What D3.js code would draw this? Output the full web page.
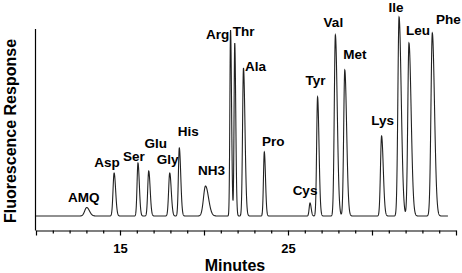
<!DOCTYPE html>
<html>
<head>
<meta charset="utf-8">
<script src="https://cdn.jsdelivr.net/npm/d3@7/dist/d3.min.js"></script>
<style>
  html, body { margin: 0; padding: 0; background: #fff; }
  svg { display: block; }
  text { font-family: "Liberation Sans", Arial, sans-serif; font-weight: bold; fill: #000; }
</style>
</head>
<body>
<svg id="chart" width="462" height="273"></svg>
<script>
// ---- data ----
const peakNames   = ["AMQ","Asp","Ser","Glu","Gly","His","NH3","Arg","Thr","Ala","Pro","Cys","Tyr","Val","Met","Lys","Ile","Leu","Phe"];
const retentionMin = [13.02,14.65,16.07,16.71,17.96,18.53,20.09,21.58,21.83,22.35,23.59,26.31,26.76,27.82,28.38,30.57,31.61,32.20,33.59];
const peakHeights  = [8.5,43,53,45,43,68,30,186,173,148,64,13,119,181,146,80,199,173,183];
const widthLeft    = [0.12,0.065,0.055,0.06,0.065,0.055,0.12,0.04,0.04,0.055,0.05,0.05,0.055,0.065,0.065,0.065,0.07,0.07,0.08];
const widthRight   = [0.16,0.09,0.08,0.085,0.09,0.085,0.18,0.06,0.06,0.09,0.07,0.07,0.085,0.11,0.11,0.1,0.13,0.13,0.13];
const runStart = 10.0, runEnd = 34.52;
const xTickValues = [10,11,12,13,14,15,16,17,18,19,20,21,22,23,24,25,26,27,28,29,30,31,32,33,34,35];
const xTickLabels = {15: "15", 25: "25"};
const yLabel = "Fluorescence Response";
const xLabel = "Minutes";

// ---- layout (label offsets relative to apex, px) ----
const labelOffsets = {
  AMQ:[-3,-6], Asp:[-7,-6], Ser:[-4,-2], Glu:[7,-23], Gly:[-2,-9], His:[9,-12], NH3:[6,-11],
  Arg:[-13,9], Thr:[9,-7], Ala:[12,3], Pro:[9,-6], Cys:[-5,-8], Tyr:[-2,-12], Val:[-2,-8],
  Met:[10,-11], Lys:[1,-11], Ile:[-3,-5], Leu:[9,-8], Phe:[16,-9]
};

const svg = d3.select("#chart");
const x = d3.scaleLinear().domain([10, 35]).range([36, 456]);
const y = d3.scaleLinear().domain([-14, 187]).range([230, 29]);

// trace built from the peak table
function signal(t) {
  let s = 0;
  for (let i = 0; i < peakNames.length; i++) {
    const d = t - retentionMin[i];
    const w = d < 0 ? widthLeft[i] : widthRight[i];
    s += peakHeights[i] * Math.exp(-d * d / (2 * w * w));
  }
  return s;
}
const times = d3.range(runStart, runEnd, 0.005);
const trace = times.map(t => [t, signal(t)]);

// axes
svg.append("line").attr("x1", 35.5).attr("x2", 35.5).attr("y1", 29).attr("y2", 230.5)
  .attr("stroke", "#000").attr("stroke-width", 1.2);

const xAxis = d3.axisBottom(x).tickValues(xTickValues)
  .tickSize(3).tickSizeOuter(0).tickFormat(d => xTickLabels[d] || "");
const gx = svg.append("g").attr("transform", "translate(0,230.5)").call(xAxis);
gx.select(".domain").attr("stroke", "#000").attr("stroke-width", 1.2);
gx.selectAll(".tick line").attr("stroke", "#000").attr("stroke-width", 1.2)
  .attr("y2", d => (d % 5 === 0 ? 5 : 3));
gx.selectAll(".tick text").attr("y", 13).attr("dy", "0.71em")
  .style("font-family", "'Liberation Sans', Arial, sans-serif").style("font-weight", "bold")
  .style("font-size", "13px").attr("fill", "#000");

// trace
svg.append("path").datum(trace)
  .attr("d", d3.line().x(d => x(d[0])).y(d => y(d[1])))
  .attr("fill", "none").attr("stroke", "#222").attr("stroke-width", 1.1);

// peak labels
svg.append("g").selectAll("text").data(peakNames).join("text")
  .attr("x", (d, i) => x(retentionMin[i]) + labelOffsets[d][0])
  .attr("y", (d, i) => y(signal(retentionMin[i])) + labelOffsets[d][1])
  .attr("text-anchor", "middle")
  .style("font-size", "13.5px")
  .text(d => d);

// axis titles
svg.append("text").attr("x", 235).attr("y", 271).attr("text-anchor", "middle")
  .style("font-size", "16px").text(xLabel);
svg.append("text").attr("transform", "translate(16,131) rotate(-90)")
  .attr("text-anchor", "middle").style("font-size", "16px").text(yLabel);
</script>
</body>
</html>
